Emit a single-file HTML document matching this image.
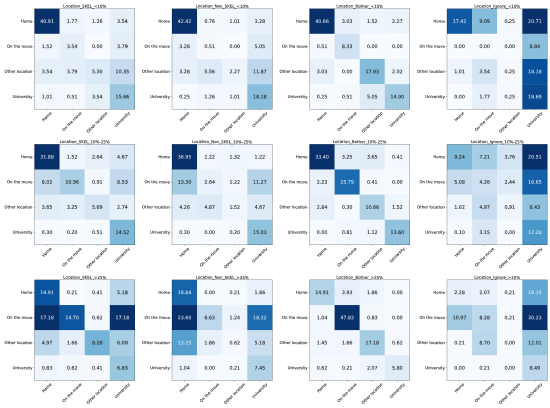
<!DOCTYPE html>
<html lang="en"><head><meta charset="utf-8"><title>Location confusion matrices</title>
<style>html,body{margin:0;padding:0;background:#fff;overflow:hidden;width:550px;height:408px}#wrap{position:relative;width:550px;height:408px;overflow:hidden}#ss{position:absolute;left:0;top:0;width:1100px;height:816px;transform:scale(0.5);transform-origin:0 0;will-change:transform}svg{display:block}text{font-family:"DejaVu Sans","Liberation Sans",sans-serif;stroke-width:0.5px;paint-order:stroke;text-rendering:geometricPrecision}.k{fill:#1a1a1a;stroke:#1a1a1a;stroke-width:0.4px}.d{fill:#262626;stroke:#262626}.l{fill:#eef2f9;stroke:#eef2f9;stroke-width:0.1px}.c{font-size:19px;text-anchor:middle}.y{font-size:15.68px;text-anchor:end}.x{font-size:15.68px;text-anchor:middle}.t{font-size:16px;text-anchor:middle}</style></head><body>
<div id="wrap"><div id="ss"><svg width="1100" height="816" viewBox="0 0 2200 1632">
<rect width="2200" height="1632" fill="#fff"/>
<g>
<rect x="138" y="34.8" width="100.6" height="100.8" fill="#08306b"/>
<rect x="238.4" y="34.8" width="100.6" height="100.8" fill="#eef5fc"/>
<rect x="338.8" y="34.8" width="100.6" height="100.8" fill="#f2f7fd"/>
<rect x="439.2" y="34.8" width="100.6" height="100.8" fill="#e6f0f9"/>
<rect x="138" y="135.4" width="100.6" height="100.8" fill="#f0f6fd"/>
<rect x="238.4" y="135.4" width="100.6" height="100.8" fill="#e6f0f9"/>
<rect x="338.8" y="135.4" width="100.6" height="100.8" fill="#f7fbff"/>
<rect x="439.2" y="135.4" width="100.6" height="100.8" fill="#e5eff9"/>
<rect x="138" y="236" width="100.6" height="100.8" fill="#e6f0f9"/>
<rect x="238.4" y="236" width="100.6" height="100.8" fill="#e5eff9"/>
<rect x="338.8" y="236" width="100.6" height="100.8" fill="#ddeaf7"/>
<rect x="439.2" y="236" width="100.6" height="100.8" fill="#c6dbef"/>
<rect x="138" y="336.6" width="100.6" height="100.8" fill="#f2f8fd"/>
<rect x="238.4" y="336.6" width="100.6" height="100.8" fill="#f5f9fe"/>
<rect x="338.8" y="336.6" width="100.6" height="100.8" fill="#e6f0f9"/>
<rect x="439.2" y="336.6" width="100.6" height="100.8" fill="#9cc9e1"/>
<rect x="138" y="34.8" width="401.6" height="402.4" fill="none" stroke="#000" stroke-width="0.88"/>
<path d="M188.2 437.2v4.4M138 85.1h-4.4M288.6 437.2v4.4M138 185.7h-4.4M389 437.2v4.4M138 286.3h-4.4M489.4 437.2v4.4M138 386.9h-4.4" stroke="#000" stroke-width="0.88" fill="none"/>
</g><g>
<text class="c l" transform="translate(188.2 91.54) rotate(0.5)">40.91</text>
<text class="c d" transform="translate(288.6 91.54) rotate(0.5)">1.77</text>
<text class="c d" transform="translate(389 91.54) rotate(0.5)">1.26</text>
<text class="c d" transform="translate(489.4 91.54) rotate(0.5)">3.54</text>
<text class="c d" transform="translate(188.2 192.14) rotate(0.5)">1.52</text>
<text class="c d" transform="translate(288.6 192.14) rotate(0.5)">3.54</text>
<text class="c d" transform="translate(389 192.14) rotate(0.5)">0.00</text>
<text class="c d" transform="translate(489.4 192.14) rotate(0.5)">3.79</text>
<text class="c d" transform="translate(188.2 292.74) rotate(0.5)">3.54</text>
<text class="c d" transform="translate(288.6 292.74) rotate(0.5)">3.79</text>
<text class="c d" transform="translate(389 292.74) rotate(0.5)">5.30</text>
<text class="c d" transform="translate(489.4 292.74) rotate(0.5)">10.35</text>
<text class="c d" transform="translate(188.2 393.34) rotate(0.5)">1.01</text>
<text class="c d" transform="translate(288.6 393.34) rotate(0.5)">0.51</text>
<text class="c d" transform="translate(389 393.34) rotate(0.5)">3.54</text>
<text class="c d" transform="translate(489.4 393.34) rotate(0.5)">15.66</text>
<text class="k y" transform="translate(129.6 90.63) rotate(0.5)">Home</text>
<text class="k y" transform="translate(129.6 191.23) rotate(0.5)">On the move</text>
<text class="k y" transform="translate(129.6 291.83) rotate(0.5)">Other location</text>
<text class="k y" transform="translate(129.6 392.43) rotate(0.5)">University</text>
<text class="k x" transform="translate(188.2 466.94) rotate(-45)" y="4.33">Home</text>
<text class="k x" transform="translate(288.6 486.55) rotate(-45)" y="4.33">On the move</text>
<text class="k x" transform="translate(389 490.07) rotate(-45)" y="4.33">Other location</text>
<text class="k x" transform="translate(489.4 478.53) rotate(-45)" y="4.33">University</text>
<text class="k t" transform="translate(338.8 30.4) rotate(0.5)">Location_SKEL_&lt;10%</text>
</g>
<g>
<rect x="688" y="34.8" width="100.6" height="100.8" fill="#08306b"/>
<rect x="788.4" y="34.8" width="100.6" height="100.8" fill="#f4f9fe"/>
<rect x="888.8" y="34.8" width="100.6" height="100.8" fill="#f2f8fd"/>
<rect x="989.2" y="34.8" width="100.6" height="100.8" fill="#e8f1fa"/>
<rect x="688" y="135.4" width="100.6" height="100.8" fill="#e8f1fa"/>
<rect x="788.4" y="135.4" width="100.6" height="100.8" fill="#f5f9fe"/>
<rect x="888.8" y="135.4" width="100.6" height="100.8" fill="#f7fbff"/>
<rect x="989.2" y="135.4" width="100.6" height="100.8" fill="#dfecf7"/>
<rect x="688" y="236" width="100.6" height="100.8" fill="#e8f1fa"/>
<rect x="788.4" y="236" width="100.6" height="100.8" fill="#ddeaf7"/>
<rect x="888.8" y="236" width="100.6" height="100.8" fill="#edf4fc"/>
<rect x="989.2" y="236" width="100.6" height="100.8" fill="#bdd7ec"/>
<rect x="688" y="336.6" width="100.6" height="100.8" fill="#f6faff"/>
<rect x="788.4" y="336.6" width="100.6" height="100.8" fill="#f2f7fd"/>
<rect x="888.8" y="336.6" width="100.6" height="100.8" fill="#f2f8fd"/>
<rect x="989.2" y="336.6" width="100.6" height="100.8" fill="#89bedc"/>
<rect x="688" y="34.8" width="401.6" height="402.4" fill="none" stroke="#000" stroke-width="0.88"/>
<path d="M738.2 437.2v4.4M688 85.1h-4.4M838.6 437.2v4.4M688 185.7h-4.4M939 437.2v4.4M688 286.3h-4.4M1039.4 437.2v4.4M688 386.9h-4.4" stroke="#000" stroke-width="0.88" fill="none"/>
</g><g>
<text class="c l" transform="translate(738.2 91.54) rotate(0.5)">42.42</text>
<text class="c d" transform="translate(838.6 91.54) rotate(0.5)">0.76</text>
<text class="c d" transform="translate(939 91.54) rotate(0.5)">1.01</text>
<text class="c d" transform="translate(1039.4 91.54) rotate(0.5)">3.28</text>
<text class="c d" transform="translate(738.2 192.14) rotate(0.5)">3.28</text>
<text class="c d" transform="translate(838.6 192.14) rotate(0.5)">0.51</text>
<text class="c d" transform="translate(939 192.14) rotate(0.5)">0.00</text>
<text class="c d" transform="translate(1039.4 192.14) rotate(0.5)">5.05</text>
<text class="c d" transform="translate(738.2 292.74) rotate(0.5)">3.28</text>
<text class="c d" transform="translate(838.6 292.74) rotate(0.5)">5.56</text>
<text class="c d" transform="translate(939 292.74) rotate(0.5)">2.27</text>
<text class="c d" transform="translate(1039.4 292.74) rotate(0.5)">11.87</text>
<text class="c d" transform="translate(738.2 393.34) rotate(0.5)">0.25</text>
<text class="c d" transform="translate(838.6 393.34) rotate(0.5)">1.26</text>
<text class="c d" transform="translate(939 393.34) rotate(0.5)">1.01</text>
<text class="c d" transform="translate(1039.4 393.34) rotate(0.5)">18.18</text>
<text class="k y" transform="translate(679.6 90.63) rotate(0.5)">Home</text>
<text class="k y" transform="translate(679.6 191.23) rotate(0.5)">On the move</text>
<text class="k y" transform="translate(679.6 291.83) rotate(0.5)">Other location</text>
<text class="k y" transform="translate(679.6 392.43) rotate(0.5)">University</text>
<text class="k x" transform="translate(738.2 466.94) rotate(-45)" y="4.33">Home</text>
<text class="k x" transform="translate(838.6 486.55) rotate(-45)" y="4.33">On the move</text>
<text class="k x" transform="translate(939 490.07) rotate(-45)" y="4.33">Other location</text>
<text class="k x" transform="translate(1039.4 478.53) rotate(-45)" y="4.33">University</text>
<text class="k t" transform="translate(888.8 30.4) rotate(0.5)">Location_Non_SKEL_&lt;10%</text>
</g>
<g>
<rect x="1238" y="34.8" width="100.6" height="100.8" fill="#08306b"/>
<rect x="1338.4" y="34.8" width="100.6" height="100.8" fill="#e8f1fa"/>
<rect x="1438.8" y="34.8" width="100.6" height="100.8" fill="#f0f6fd"/>
<rect x="1539.2" y="34.8" width="100.6" height="100.8" fill="#ecf4fb"/>
<rect x="1238" y="135.4" width="100.6" height="100.8" fill="#f5f9fe"/>
<rect x="1338.4" y="135.4" width="100.6" height="100.8" fill="#cfe1f2"/>
<rect x="1438.8" y="135.4" width="100.6" height="100.8" fill="#f7fbff"/>
<rect x="1539.2" y="135.4" width="100.6" height="100.8" fill="#f7fbff"/>
<rect x="1238" y="236" width="100.6" height="100.8" fill="#e8f1fa"/>
<rect x="1338.4" y="236" width="100.6" height="100.8" fill="#f7fbff"/>
<rect x="1438.8" y="236" width="100.6" height="100.8" fill="#84bcdb"/>
<rect x="1539.2" y="236" width="100.6" height="100.8" fill="#eef5fc"/>
<rect x="1238" y="336.6" width="100.6" height="100.8" fill="#f6faff"/>
<rect x="1338.4" y="336.6" width="100.6" height="100.8" fill="#f5f9fe"/>
<rect x="1438.8" y="336.6" width="100.6" height="100.8" fill="#dfebf7"/>
<rect x="1539.2" y="336.6" width="100.6" height="100.8" fill="#a1cbe2"/>
<rect x="1238" y="34.8" width="401.6" height="402.4" fill="none" stroke="#000" stroke-width="0.88"/>
<path d="M1288.2 437.2v4.4M1238 85.1h-4.4M1388.6 437.2v4.4M1238 185.7h-4.4M1489 437.2v4.4M1238 286.3h-4.4M1589.4 437.2v4.4M1238 386.9h-4.4" stroke="#000" stroke-width="0.88" fill="none"/>
</g><g>
<text class="c l" transform="translate(1288.2 91.54) rotate(0.5)">40.66</text>
<text class="c d" transform="translate(1388.6 91.54) rotate(0.5)">3.03</text>
<text class="c d" transform="translate(1489 91.54) rotate(0.5)">1.52</text>
<text class="c d" transform="translate(1589.4 91.54) rotate(0.5)">2.27</text>
<text class="c d" transform="translate(1288.2 192.14) rotate(0.5)">0.51</text>
<text class="c d" transform="translate(1388.6 192.14) rotate(0.5)">8.33</text>
<text class="c d" transform="translate(1489 192.14) rotate(0.5)">0.00</text>
<text class="c d" transform="translate(1589.4 192.14) rotate(0.5)">0.00</text>
<text class="c d" transform="translate(1288.2 292.74) rotate(0.5)">3.03</text>
<text class="c d" transform="translate(1388.6 292.74) rotate(0.5)">0.00</text>
<text class="c d" transform="translate(1489 292.74) rotate(0.5)">17.93</text>
<text class="c d" transform="translate(1589.4 292.74) rotate(0.5)">2.02</text>
<text class="c d" transform="translate(1288.2 393.34) rotate(0.5)">0.25</text>
<text class="c d" transform="translate(1388.6 393.34) rotate(0.5)">0.51</text>
<text class="c d" transform="translate(1489 393.34) rotate(0.5)">5.05</text>
<text class="c d" transform="translate(1589.4 393.34) rotate(0.5)">14.90</text>
<text class="k y" transform="translate(1229.6 90.63) rotate(0.5)">Home</text>
<text class="k y" transform="translate(1229.6 191.23) rotate(0.5)">On the move</text>
<text class="k y" transform="translate(1229.6 291.83) rotate(0.5)">Other location</text>
<text class="k y" transform="translate(1229.6 392.43) rotate(0.5)">University</text>
<text class="k x" transform="translate(1288.2 466.94) rotate(-45)" y="4.33">Home</text>
<text class="k x" transform="translate(1388.6 486.55) rotate(-45)" y="4.33">On the move</text>
<text class="k x" transform="translate(1489 490.07) rotate(-45)" y="4.33">Other location</text>
<text class="k x" transform="translate(1589.4 478.53) rotate(-45)" y="4.33">University</text>
<text class="k t" transform="translate(1438.8 30.4) rotate(0.5)">Location_Bother_&lt;10%</text>
</g>
<g>
<rect x="1788" y="34.8" width="100.6" height="100.8" fill="#0e59a2"/>
<rect x="1888.4" y="34.8" width="100.6" height="100.8" fill="#84bcdb"/>
<rect x="1988.8" y="34.8" width="100.6" height="100.8" fill="#f5f9fe"/>
<rect x="2089.2" y="34.8" width="100.6" height="100.8" fill="#08306b"/>
<rect x="1788" y="135.4" width="100.6" height="100.8" fill="#f7fbff"/>
<rect x="1888.4" y="135.4" width="100.6" height="100.8" fill="#f7fbff"/>
<rect x="1988.8" y="135.4" width="100.6" height="100.8" fill="#f7fbff"/>
<rect x="2089.2" y="135.4" width="100.6" height="100.8" fill="#89bedc"/>
<rect x="1788" y="236" width="100.6" height="100.8" fill="#eef5fc"/>
<rect x="1888.4" y="236" width="100.6" height="100.8" fill="#d6e5f4"/>
<rect x="1988.8" y="236" width="100.6" height="100.8" fill="#f5f9fe"/>
<rect x="2089.2" y="236" width="100.6" height="100.8" fill="#08509b"/>
<rect x="1788" y="336.6" width="100.6" height="100.8" fill="#f7fbff"/>
<rect x="1888.4" y="336.6" width="100.6" height="100.8" fill="#e7f0fa"/>
<rect x="1988.8" y="336.6" width="100.6" height="100.8" fill="#f5f9fe"/>
<rect x="2089.2" y="336.6" width="100.6" height="100.8" fill="#084990"/>
<rect x="1788" y="34.8" width="401.6" height="402.4" fill="none" stroke="#000" stroke-width="0.88"/>
<path d="M1838.2 437.2v4.4M1788 85.1h-4.4M1938.6 437.2v4.4M1788 185.7h-4.4M2039 437.2v4.4M1788 286.3h-4.4M2139.4 437.2v4.4M1788 386.9h-4.4" stroke="#000" stroke-width="0.88" fill="none"/>
</g><g>
<text class="c l" transform="translate(1838.2 91.54) rotate(0.5)">17.42</text>
<text class="c d" transform="translate(1938.6 91.54) rotate(0.5)">9.09</text>
<text class="c d" transform="translate(2039 91.54) rotate(0.5)">0.25</text>
<text class="c l" transform="translate(2139.4 91.54) rotate(0.5)">20.71</text>
<text class="c d" transform="translate(1838.2 192.14) rotate(0.5)">0.00</text>
<text class="c d" transform="translate(1938.6 192.14) rotate(0.5)">0.00</text>
<text class="c d" transform="translate(2039 192.14) rotate(0.5)">0.00</text>
<text class="c d" transform="translate(2139.4 192.14) rotate(0.5)">8.84</text>
<text class="c d" transform="translate(1838.2 292.74) rotate(0.5)">1.01</text>
<text class="c d" transform="translate(1938.6 292.74) rotate(0.5)">3.54</text>
<text class="c d" transform="translate(2039 292.74) rotate(0.5)">0.25</text>
<text class="c l" transform="translate(2139.4 292.74) rotate(0.5)">18.18</text>
<text class="c d" transform="translate(1838.2 393.34) rotate(0.5)">0.00</text>
<text class="c d" transform="translate(1938.6 393.34) rotate(0.5)">1.77</text>
<text class="c d" transform="translate(2039 393.34) rotate(0.5)">0.25</text>
<text class="c l" transform="translate(2139.4 393.34) rotate(0.5)">18.69</text>
<text class="k y" transform="translate(1779.6 90.63) rotate(0.5)">Home</text>
<text class="k y" transform="translate(1779.6 191.23) rotate(0.5)">On the move</text>
<text class="k y" transform="translate(1779.6 291.83) rotate(0.5)">Other location</text>
<text class="k y" transform="translate(1779.6 392.43) rotate(0.5)">University</text>
<text class="k x" transform="translate(1838.2 466.94) rotate(-45)" y="4.33">Home</text>
<text class="k x" transform="translate(1938.6 486.55) rotate(-45)" y="4.33">On the move</text>
<text class="k x" transform="translate(2039 490.07) rotate(-45)" y="4.33">Other location</text>
<text class="k x" transform="translate(2139.4 478.53) rotate(-45)" y="4.33">University</text>
<text class="k t" transform="translate(1988.8 30.4) rotate(0.5)">Location_Ignore_&lt;10%</text>
</g>
<g>
<rect x="138" y="577.2" width="100.6" height="100.8" fill="#08306b"/>
<rect x="238.4" y="577.2" width="100.6" height="100.8" fill="#eff6fc"/>
<rect x="338.8" y="577.2" width="100.6" height="100.8" fill="#e8f1fa"/>
<rect x="439.2" y="577.2" width="100.6" height="100.8" fill="#dbe9f6"/>
<rect x="138" y="677.8" width="100.6" height="100.8" fill="#c7dbef"/>
<rect x="238.4" y="677.8" width="100.6" height="100.8" fill="#aacfe5"/>
<rect x="338.8" y="677.8" width="100.6" height="100.8" fill="#f3f8fe"/>
<rect x="439.2" y="677.8" width="100.6" height="100.8" fill="#c2d9ee"/>
<rect x="138" y="778.4" width="100.6" height="100.8" fill="#e2edf8"/>
<rect x="238.4" y="778.4" width="100.6" height="100.8" fill="#e4eff9"/>
<rect x="338.8" y="778.4" width="100.6" height="100.8" fill="#d5e5f4"/>
<rect x="439.2" y="778.4" width="100.6" height="100.8" fill="#e7f1fa"/>
<rect x="138" y="879" width="100.6" height="100.8" fill="#f7fbff"/>
<rect x="238.4" y="879" width="100.6" height="100.8" fill="#f7fbff"/>
<rect x="338.8" y="879" width="100.6" height="100.8" fill="#f5fafe"/>
<rect x="439.2" y="879" width="100.6" height="100.8" fill="#7fb9da"/>
<rect x="138" y="577.2" width="401.6" height="402.4" fill="none" stroke="#000" stroke-width="0.88"/>
<path d="M188.2 979.6v4.4M138 627.5h-4.4M288.6 979.6v4.4M138 728.1h-4.4M389 979.6v4.4M138 828.7h-4.4M489.4 979.6v4.4M138 929.3h-4.4" stroke="#000" stroke-width="0.88" fill="none"/>
</g><g>
<text class="c l" transform="translate(188.2 633.94) rotate(0.5)">31.88</text>
<text class="c d" transform="translate(288.6 633.94) rotate(0.5)">1.52</text>
<text class="c d" transform="translate(389 633.94) rotate(0.5)">2.64</text>
<text class="c d" transform="translate(489.4 633.94) rotate(0.5)">4.67</text>
<text class="c d" transform="translate(188.2 734.54) rotate(0.5)">8.02</text>
<text class="c d" transform="translate(288.6 734.54) rotate(0.5)">10.96</text>
<text class="c d" transform="translate(389 734.54) rotate(0.5)">0.91</text>
<text class="c d" transform="translate(489.4 734.54) rotate(0.5)">8.53</text>
<text class="c d" transform="translate(188.2 835.14) rotate(0.5)">3.65</text>
<text class="c d" transform="translate(288.6 835.14) rotate(0.5)">3.25</text>
<text class="c d" transform="translate(389 835.14) rotate(0.5)">5.69</text>
<text class="c d" transform="translate(489.4 835.14) rotate(0.5)">2.74</text>
<text class="c d" transform="translate(188.2 935.74) rotate(0.5)">0.30</text>
<text class="c d" transform="translate(288.6 935.74) rotate(0.5)">0.20</text>
<text class="c d" transform="translate(389 935.74) rotate(0.5)">0.51</text>
<text class="c d" transform="translate(489.4 935.74) rotate(0.5)">14.52</text>
<text class="k y" transform="translate(129.6 633.03) rotate(0.5)">Home</text>
<text class="k y" transform="translate(129.6 733.63) rotate(0.5)">On the move</text>
<text class="k y" transform="translate(129.6 834.23) rotate(0.5)">Other location</text>
<text class="k y" transform="translate(129.6 934.83) rotate(0.5)">University</text>
<text class="k x" transform="translate(188.2 1009.34) rotate(-45)" y="4.33">Home</text>
<text class="k x" transform="translate(288.6 1028.95) rotate(-45)" y="4.33">On the move</text>
<text class="k x" transform="translate(389 1032.47) rotate(-45)" y="4.33">Other location</text>
<text class="k x" transform="translate(489.4 1020.93) rotate(-45)" y="4.33">University</text>
<text class="k t" transform="translate(338.8 572.8) rotate(0.5)">Location_SKEL_10%-25%</text>
</g>
<g>
<rect x="688" y="577.2" width="100.6" height="100.8" fill="#08306b"/>
<rect x="788.4" y="577.2" width="100.6" height="100.8" fill="#f1f7fd"/>
<rect x="888.8" y="577.2" width="100.6" height="100.8" fill="#f0f6fd"/>
<rect x="989.2" y="577.2" width="100.6" height="100.8" fill="#f1f7fd"/>
<rect x="688" y="677.8" width="100.6" height="100.8" fill="#a3cce3"/>
<rect x="788.4" y="677.8" width="100.6" height="100.8" fill="#e9f2fa"/>
<rect x="888.8" y="677.8" width="100.6" height="100.8" fill="#f1f7fd"/>
<rect x="989.2" y="677.8" width="100.6" height="100.8" fill="#b4d3e9"/>
<rect x="688" y="778.4" width="100.6" height="100.8" fill="#e0ecf8"/>
<rect x="788.4" y="778.4" width="100.6" height="100.8" fill="#ddeaf7"/>
<rect x="888.8" y="778.4" width="100.6" height="100.8" fill="#eff6fc"/>
<rect x="989.2" y="778.4" width="100.6" height="100.8" fill="#deebf7"/>
<rect x="688" y="879" width="100.6" height="100.8" fill="#f5fafe"/>
<rect x="788.4" y="879" width="100.6" height="100.8" fill="#f7fbff"/>
<rect x="888.8" y="879" width="100.6" height="100.8" fill="#f6faff"/>
<rect x="989.2" y="879" width="100.6" height="100.8" fill="#91c3de"/>
<rect x="688" y="577.2" width="401.6" height="402.4" fill="none" stroke="#000" stroke-width="0.88"/>
<path d="M738.2 979.6v4.4M688 627.5h-4.4M838.6 979.6v4.4M688 728.1h-4.4M939 979.6v4.4M688 828.7h-4.4M1039.4 979.6v4.4M688 929.3h-4.4" stroke="#000" stroke-width="0.88" fill="none"/>
</g><g>
<text class="c l" transform="translate(738.2 633.94) rotate(0.5)">36.95</text>
<text class="c d" transform="translate(838.6 633.94) rotate(0.5)">1.22</text>
<text class="c d" transform="translate(939 633.94) rotate(0.5)">1.32</text>
<text class="c d" transform="translate(1039.4 633.94) rotate(0.5)">1.22</text>
<text class="c d" transform="translate(738.2 734.54) rotate(0.5)">13.30</text>
<text class="c d" transform="translate(838.6 734.54) rotate(0.5)">2.64</text>
<text class="c d" transform="translate(939 734.54) rotate(0.5)">1.22</text>
<text class="c d" transform="translate(1039.4 734.54) rotate(0.5)">11.27</text>
<text class="c d" transform="translate(738.2 835.14) rotate(0.5)">4.26</text>
<text class="c d" transform="translate(838.6 835.14) rotate(0.5)">4.87</text>
<text class="c d" transform="translate(939 835.14) rotate(0.5)">1.52</text>
<text class="c d" transform="translate(1039.4 835.14) rotate(0.5)">4.67</text>
<text class="c d" transform="translate(738.2 935.74) rotate(0.5)">0.30</text>
<text class="c d" transform="translate(838.6 935.74) rotate(0.5)">0.00</text>
<text class="c d" transform="translate(939 935.74) rotate(0.5)">0.20</text>
<text class="c d" transform="translate(1039.4 935.74) rotate(0.5)">15.03</text>
<text class="k y" transform="translate(679.6 633.03) rotate(0.5)">Home</text>
<text class="k y" transform="translate(679.6 733.63) rotate(0.5)">On the move</text>
<text class="k y" transform="translate(679.6 834.23) rotate(0.5)">Other location</text>
<text class="k y" transform="translate(679.6 934.83) rotate(0.5)">University</text>
<text class="k x" transform="translate(738.2 1009.34) rotate(-45)" y="4.33">Home</text>
<text class="k x" transform="translate(838.6 1028.95) rotate(-45)" y="4.33">On the move</text>
<text class="k x" transform="translate(939 1032.47) rotate(-45)" y="4.33">Other location</text>
<text class="k x" transform="translate(1039.4 1020.93) rotate(-45)" y="4.33">University</text>
<text class="k t" transform="translate(888.8 572.8) rotate(0.5)">Location_Non_SKEL_10%-25%</text>
</g>
<g>
<rect x="1238" y="577.2" width="100.6" height="100.8" fill="#08306b"/>
<rect x="1338.4" y="577.2" width="100.6" height="100.8" fill="#e4eff9"/>
<rect x="1438.8" y="577.2" width="100.6" height="100.8" fill="#e2edf8"/>
<rect x="1539.2" y="577.2" width="100.6" height="100.8" fill="#f5f9fe"/>
<rect x="1238" y="677.8" width="100.6" height="100.8" fill="#eaf2fb"/>
<rect x="1338.4" y="677.8" width="100.6" height="100.8" fill="#1c6bb0"/>
<rect x="1438.8" y="677.8" width="100.6" height="100.8" fill="#f5f9fe"/>
<rect x="1539.2" y="677.8" width="100.6" height="100.8" fill="#f7fbff"/>
<rect x="1238" y="778.4" width="100.6" height="100.8" fill="#e7f0fa"/>
<rect x="1338.4" y="778.4" width="100.6" height="100.8" fill="#f5fafe"/>
<rect x="1438.8" y="778.4" width="100.6" height="100.8" fill="#b0d2e7"/>
<rect x="1539.2" y="778.4" width="100.6" height="100.8" fill="#eef5fc"/>
<rect x="1238" y="879" width="100.6" height="100.8" fill="#f7fbff"/>
<rect x="1338.4" y="879" width="100.6" height="100.8" fill="#f2f8fd"/>
<rect x="1438.8" y="879" width="100.6" height="100.8" fill="#f1f7fd"/>
<rect x="1539.2" y="879" width="100.6" height="100.8" fill="#91c3de"/>
<rect x="1238" y="577.2" width="401.6" height="402.4" fill="none" stroke="#000" stroke-width="0.88"/>
<path d="M1288.2 979.6v4.4M1238 627.5h-4.4M1388.6 979.6v4.4M1238 728.1h-4.4M1489 979.6v4.4M1238 828.7h-4.4M1589.4 979.6v4.4M1238 929.3h-4.4" stroke="#000" stroke-width="0.88" fill="none"/>
</g><g>
<text class="c l" transform="translate(1288.2 633.94) rotate(0.5)">33.40</text>
<text class="c d" transform="translate(1388.6 633.94) rotate(0.5)">3.25</text>
<text class="c d" transform="translate(1489 633.94) rotate(0.5)">3.65</text>
<text class="c d" transform="translate(1589.4 633.94) rotate(0.5)">0.41</text>
<text class="c d" transform="translate(1288.2 734.54) rotate(0.5)">2.23</text>
<text class="c l" transform="translate(1388.6 734.54) rotate(0.5)">25.79</text>
<text class="c d" transform="translate(1489 734.54) rotate(0.5)">0.41</text>
<text class="c d" transform="translate(1589.4 734.54) rotate(0.5)">0.00</text>
<text class="c d" transform="translate(1288.2 835.14) rotate(0.5)">2.84</text>
<text class="c d" transform="translate(1388.6 835.14) rotate(0.5)">0.30</text>
<text class="c d" transform="translate(1489 835.14) rotate(0.5)">10.66</text>
<text class="c d" transform="translate(1589.4 835.14) rotate(0.5)">1.52</text>
<text class="c d" transform="translate(1288.2 935.74) rotate(0.5)">0.00</text>
<text class="c d" transform="translate(1388.6 935.74) rotate(0.5)">0.81</text>
<text class="c d" transform="translate(1489 935.74) rotate(0.5)">1.12</text>
<text class="c d" transform="translate(1589.4 935.74) rotate(0.5)">13.60</text>
<text class="k y" transform="translate(1229.6 633.03) rotate(0.5)">Home</text>
<text class="k y" transform="translate(1229.6 733.63) rotate(0.5)">On the move</text>
<text class="k y" transform="translate(1229.6 834.23) rotate(0.5)">Other location</text>
<text class="k y" transform="translate(1229.6 934.83) rotate(0.5)">University</text>
<text class="k x" transform="translate(1288.2 1009.34) rotate(-45)" y="4.33">Home</text>
<text class="k x" transform="translate(1388.6 1028.95) rotate(-45)" y="4.33">On the move</text>
<text class="k x" transform="translate(1489 1032.47) rotate(-45)" y="4.33">Other location</text>
<text class="k x" transform="translate(1589.4 1020.93) rotate(-45)" y="4.33">University</text>
<text class="k t" transform="translate(1438.8 572.8) rotate(0.5)">Location_Bother_10%-25%</text>
</g>
<g>
<rect x="1788" y="577.2" width="100.6" height="100.8" fill="#7fb9da"/>
<rect x="1888.4" y="577.2" width="100.6" height="100.8" fill="#a6cee4"/>
<rect x="1988.8" y="577.2" width="100.6" height="100.8" fill="#d3e4f3"/>
<rect x="2089.2" y="577.2" width="100.6" height="100.8" fill="#08306b"/>
<rect x="1788" y="677.8" width="100.6" height="100.8" fill="#c7dbef"/>
<rect x="1888.4" y="677.8" width="100.6" height="100.8" fill="#cee0f2"/>
<rect x="1988.8" y="677.8" width="100.6" height="100.8" fill="#dfecf7"/>
<rect x="2089.2" y="677.8" width="100.6" height="100.8" fill="#1561a9"/>
<rect x="1788" y="778.4" width="100.6" height="100.8" fill="#eef5fc"/>
<rect x="1888.4" y="778.4" width="100.6" height="100.8" fill="#c7dcef"/>
<rect x="1988.8" y="778.4" width="100.6" height="100.8" fill="#eef5fc"/>
<rect x="2089.2" y="778.4" width="100.6" height="100.8" fill="#8fc2de"/>
<rect x="1788" y="879" width="100.6" height="100.8" fill="#f6faff"/>
<rect x="1888.4" y="879" width="100.6" height="100.8" fill="#d9e7f5"/>
<rect x="1988.8" y="879" width="100.6" height="100.8" fill="#f7fbff"/>
<rect x="2089.2" y="879" width="100.6" height="100.8" fill="#4a98c9"/>
<rect x="1788" y="577.2" width="401.6" height="402.4" fill="none" stroke="#000" stroke-width="0.88"/>
<path d="M1838.2 979.6v4.4M1788 627.5h-4.4M1938.6 979.6v4.4M1788 728.1h-4.4M2039 979.6v4.4M1788 828.7h-4.4M2139.4 979.6v4.4M1788 929.3h-4.4" stroke="#000" stroke-width="0.88" fill="none"/>
</g><g>
<text class="c d" transform="translate(1838.2 633.94) rotate(0.5)">9.24</text>
<text class="c d" transform="translate(1938.6 633.94) rotate(0.5)">7.21</text>
<text class="c d" transform="translate(2039 633.94) rotate(0.5)">3.76</text>
<text class="c l" transform="translate(2139.4 633.94) rotate(0.5)">20.51</text>
<text class="c d" transform="translate(1838.2 734.54) rotate(0.5)">5.08</text>
<text class="c d" transform="translate(1938.6 734.54) rotate(0.5)">4.26</text>
<text class="c d" transform="translate(2039 734.54) rotate(0.5)">2.44</text>
<text class="c l" transform="translate(2139.4 734.54) rotate(0.5)">16.65</text>
<text class="c d" transform="translate(1838.2 835.14) rotate(0.5)">1.02</text>
<text class="c d" transform="translate(1938.6 835.14) rotate(0.5)">4.97</text>
<text class="c d" transform="translate(2039 835.14) rotate(0.5)">0.91</text>
<text class="c d" transform="translate(2139.4 835.14) rotate(0.5)">8.43</text>
<text class="c d" transform="translate(1838.2 935.74) rotate(0.5)">0.10</text>
<text class="c d" transform="translate(1938.6 935.74) rotate(0.5)">3.15</text>
<text class="c d" transform="translate(2039 935.74) rotate(0.5)">0.00</text>
<text class="c l" transform="translate(2139.4 935.74) rotate(0.5)">12.28</text>
<text class="k y" transform="translate(1779.6 633.03) rotate(0.5)">Home</text>
<text class="k y" transform="translate(1779.6 733.63) rotate(0.5)">On the move</text>
<text class="k y" transform="translate(1779.6 834.23) rotate(0.5)">Other location</text>
<text class="k y" transform="translate(1779.6 934.83) rotate(0.5)">University</text>
<text class="k x" transform="translate(1838.2 1009.34) rotate(-45)" y="4.33">Home</text>
<text class="k x" transform="translate(1938.6 1028.95) rotate(-45)" y="4.33">On the move</text>
<text class="k x" transform="translate(2039 1032.47) rotate(-45)" y="4.33">Other location</text>
<text class="k x" transform="translate(2139.4 1020.93) rotate(-45)" y="4.33">University</text>
<text class="k t" transform="translate(1988.8 572.8) rotate(0.5)">Location_Ignore_10%-25%</text>
</g>
<g>
<rect x="138" y="1119.6" width="100.6" height="100.8" fill="#0a539e"/>
<rect x="238.4" y="1119.6" width="100.6" height="100.8" fill="#f7fbff"/>
<rect x="338.8" y="1119.6" width="100.6" height="100.8" fill="#f5f9fe"/>
<rect x="439.2" y="1119.6" width="100.6" height="100.8" fill="#b9d6ea"/>
<rect x="138" y="1220.2" width="100.6" height="100.8" fill="#08306b"/>
<rect x="238.4" y="1220.2" width="100.6" height="100.8" fill="#0c56a0"/>
<rect x="338.8" y="1220.2" width="100.6" height="100.8" fill="#f2f8fd"/>
<rect x="439.2" y="1220.2" width="100.6" height="100.8" fill="#08306b"/>
<rect x="138" y="1320.8" width="100.6" height="100.8" fill="#bdd7ec"/>
<rect x="238.4" y="1320.8" width="100.6" height="100.8" fill="#e7f0fa"/>
<rect x="338.8" y="1320.8" width="100.6" height="100.8" fill="#75b4d8"/>
<rect x="439.2" y="1320.8" width="100.6" height="100.8" fill="#a9cfe5"/>
<rect x="138" y="1421.4" width="100.6" height="100.8" fill="#f0f6fd"/>
<rect x="238.4" y="1421.4" width="100.6" height="100.8" fill="#f2f8fd"/>
<rect x="338.8" y="1421.4" width="100.6" height="100.8" fill="#f5f9fe"/>
<rect x="439.2" y="1421.4" width="100.6" height="100.8" fill="#99c7e0"/>
<rect x="138" y="1119.6" width="401.6" height="402.4" fill="none" stroke="#000" stroke-width="0.88"/>
<path d="M188.2 1522v4.4M138 1169.9h-4.4M288.6 1522v4.4M138 1270.5h-4.4M389 1522v4.4M138 1371.1h-4.4M489.4 1522v4.4M138 1471.7h-4.4" stroke="#000" stroke-width="0.88" fill="none"/>
</g><g>
<text class="c l" transform="translate(188.2 1176.34) rotate(0.5)">14.91</text>
<text class="c d" transform="translate(288.6 1176.34) rotate(0.5)">0.21</text>
<text class="c d" transform="translate(389 1176.34) rotate(0.5)">0.41</text>
<text class="c d" transform="translate(489.4 1176.34) rotate(0.5)">5.18</text>
<text class="c l" transform="translate(188.2 1276.94) rotate(0.5)">17.18</text>
<text class="c l" transform="translate(288.6 1276.94) rotate(0.5)">14.70</text>
<text class="c d" transform="translate(389 1276.94) rotate(0.5)">0.62</text>
<text class="c l" transform="translate(489.4 1276.94) rotate(0.5)">17.18</text>
<text class="c d" transform="translate(188.2 1377.54) rotate(0.5)">4.97</text>
<text class="c d" transform="translate(288.6 1377.54) rotate(0.5)">1.66</text>
<text class="c d" transform="translate(389 1377.54) rotate(0.5)">8.28</text>
<text class="c d" transform="translate(489.4 1377.54) rotate(0.5)">6.00</text>
<text class="c d" transform="translate(188.2 1478.14) rotate(0.5)">0.83</text>
<text class="c d" transform="translate(288.6 1478.14) rotate(0.5)">0.62</text>
<text class="c d" transform="translate(389 1478.14) rotate(0.5)">0.41</text>
<text class="c d" transform="translate(489.4 1478.14) rotate(0.5)">6.83</text>
<text class="k y" transform="translate(129.6 1175.43) rotate(0.5)">Home</text>
<text class="k y" transform="translate(129.6 1276.03) rotate(0.5)">On the move</text>
<text class="k y" transform="translate(129.6 1376.63) rotate(0.5)">Other location</text>
<text class="k y" transform="translate(129.6 1477.23) rotate(0.5)">University</text>
<text class="k x" transform="translate(188.2 1551.74) rotate(-45)" y="4.33">Home</text>
<text class="k x" transform="translate(288.6 1571.35) rotate(-45)" y="4.33">On the move</text>
<text class="k x" transform="translate(389 1574.87) rotate(-45)" y="4.33">Other location</text>
<text class="k x" transform="translate(489.4 1563.33) rotate(-45)" y="4.33">University</text>
<text class="k t" transform="translate(338.8 1115.2) rotate(0.5)">Location_SKEL_&gt;25%</text>
</g>
<g>
<rect x="688" y="1119.6" width="100.6" height="100.8" fill="#1764ab"/>
<rect x="788.4" y="1119.6" width="100.6" height="100.8" fill="#f7fbff"/>
<rect x="888.8" y="1119.6" width="100.6" height="100.8" fill="#f5fafe"/>
<rect x="989.2" y="1119.6" width="100.6" height="100.8" fill="#e9f2fa"/>
<rect x="688" y="1220.2" width="100.6" height="100.8" fill="#08306b"/>
<rect x="788.4" y="1220.2" width="100.6" height="100.8" fill="#bdd7ec"/>
<rect x="888.8" y="1220.2" width="100.6" height="100.8" fill="#edf4fc"/>
<rect x="989.2" y="1220.2" width="100.6" height="100.8" fill="#1c6bb0"/>
<rect x="688" y="1320.8" width="100.6" height="100.8" fill="#57a0ce"/>
<rect x="788.4" y="1320.8" width="100.6" height="100.8" fill="#e7f1fa"/>
<rect x="888.8" y="1320.8" width="100.6" height="100.8" fill="#f2f8fd"/>
<rect x="989.2" y="1320.8" width="100.6" height="100.8" fill="#ccdff1"/>
<rect x="688" y="1421.4" width="100.6" height="100.8" fill="#eef5fc"/>
<rect x="788.4" y="1421.4" width="100.6" height="100.8" fill="#f7fbff"/>
<rect x="888.8" y="1421.4" width="100.6" height="100.8" fill="#f5fafe"/>
<rect x="989.2" y="1421.4" width="100.6" height="100.8" fill="#b2d2e8"/>
<rect x="688" y="1119.6" width="401.6" height="402.4" fill="none" stroke="#000" stroke-width="0.88"/>
<path d="M738.2 1522v4.4M688 1169.9h-4.4M838.6 1522v4.4M688 1270.5h-4.4M939 1522v4.4M688 1371.1h-4.4M1039.4 1522v4.4M688 1471.7h-4.4" stroke="#000" stroke-width="0.88" fill="none"/>
</g><g>
<text class="c l" transform="translate(738.2 1176.34) rotate(0.5)">18.84</text>
<text class="c d" transform="translate(838.6 1176.34) rotate(0.5)">0.00</text>
<text class="c d" transform="translate(939 1176.34) rotate(0.5)">0.21</text>
<text class="c d" transform="translate(1039.4 1176.34) rotate(0.5)">1.66</text>
<text class="c l" transform="translate(738.2 1276.94) rotate(0.5)">23.60</text>
<text class="c d" transform="translate(838.6 1276.94) rotate(0.5)">6.63</text>
<text class="c d" transform="translate(939 1276.94) rotate(0.5)">1.24</text>
<text class="c l" transform="translate(1039.4 1276.94) rotate(0.5)">18.22</text>
<text class="c l" transform="translate(738.2 1377.54) rotate(0.5)">13.25</text>
<text class="c d" transform="translate(838.6 1377.54) rotate(0.5)">1.86</text>
<text class="c d" transform="translate(939 1377.54) rotate(0.5)">0.62</text>
<text class="c d" transform="translate(1039.4 1377.54) rotate(0.5)">5.18</text>
<text class="c d" transform="translate(738.2 1478.14) rotate(0.5)">1.04</text>
<text class="c d" transform="translate(838.6 1478.14) rotate(0.5)">0.00</text>
<text class="c d" transform="translate(939 1478.14) rotate(0.5)">0.21</text>
<text class="c d" transform="translate(1039.4 1478.14) rotate(0.5)">7.45</text>
<text class="k y" transform="translate(679.6 1175.43) rotate(0.5)">Home</text>
<text class="k y" transform="translate(679.6 1276.03) rotate(0.5)">On the move</text>
<text class="k y" transform="translate(679.6 1376.63) rotate(0.5)">Other location</text>
<text class="k y" transform="translate(679.6 1477.23) rotate(0.5)">University</text>
<text class="k x" transform="translate(738.2 1551.74) rotate(-45)" y="4.33">Home</text>
<text class="k x" transform="translate(838.6 1571.35) rotate(-45)" y="4.33">On the move</text>
<text class="k x" transform="translate(939 1574.87) rotate(-45)" y="4.33">Other location</text>
<text class="k x" transform="translate(1039.4 1563.33) rotate(-45)" y="4.33">University</text>
<text class="k t" transform="translate(888.8 1115.2) rotate(0.5)">Location_Non_SKEL_&gt;25%</text>
</g>
<g>
<rect x="1238" y="1119.6" width="100.6" height="100.8" fill="#b3d3e8"/>
<rect x="1338.4" y="1119.6" width="100.6" height="100.8" fill="#e7f0fa"/>
<rect x="1438.8" y="1119.6" width="100.6" height="100.8" fill="#f0f6fd"/>
<rect x="1539.2" y="1119.6" width="100.6" height="100.8" fill="#f7fbff"/>
<rect x="1238" y="1220.2" width="100.6" height="100.8" fill="#f3f8fe"/>
<rect x="1338.4" y="1220.2" width="100.6" height="100.8" fill="#08306b"/>
<rect x="1438.8" y="1220.2" width="100.6" height="100.8" fill="#f4f9fe"/>
<rect x="1539.2" y="1220.2" width="100.6" height="100.8" fill="#f7fbff"/>
<rect x="1238" y="1320.8" width="100.6" height="100.8" fill="#f2f7fd"/>
<rect x="1338.4" y="1320.8" width="100.6" height="100.8" fill="#f1f7fd"/>
<rect x="1438.8" y="1320.8" width="100.6" height="100.8" fill="#a4cce3"/>
<rect x="1539.2" y="1320.8" width="100.6" height="100.8" fill="#f5f9fe"/>
<rect x="1238" y="1421.4" width="100.6" height="100.8" fill="#f5f9fe"/>
<rect x="1338.4" y="1421.4" width="100.6" height="100.8" fill="#f6faff"/>
<rect x="1438.8" y="1421.4" width="100.6" height="100.8" fill="#eef5fc"/>
<rect x="1539.2" y="1421.4" width="100.6" height="100.8" fill="#dfebf7"/>
<rect x="1238" y="1119.6" width="401.6" height="402.4" fill="none" stroke="#000" stroke-width="0.88"/>
<path d="M1288.2 1522v4.4M1238 1169.9h-4.4M1388.6 1522v4.4M1238 1270.5h-4.4M1489 1522v4.4M1238 1371.1h-4.4M1589.4 1522v4.4M1238 1471.7h-4.4" stroke="#000" stroke-width="0.88" fill="none"/>
</g><g>
<text class="c d" transform="translate(1288.2 1176.34) rotate(0.5)">14.91</text>
<text class="c d" transform="translate(1388.6 1176.34) rotate(0.5)">3.93</text>
<text class="c d" transform="translate(1489 1176.34) rotate(0.5)">1.86</text>
<text class="c d" transform="translate(1589.4 1176.34) rotate(0.5)">0.00</text>
<text class="c d" transform="translate(1288.2 1276.94) rotate(0.5)">1.04</text>
<text class="c l" transform="translate(1388.6 1276.94) rotate(0.5)">47.83</text>
<text class="c d" transform="translate(1489 1276.94) rotate(0.5)">0.83</text>
<text class="c d" transform="translate(1589.4 1276.94) rotate(0.5)">0.00</text>
<text class="c d" transform="translate(1288.2 1377.54) rotate(0.5)">1.45</text>
<text class="c d" transform="translate(1388.6 1377.54) rotate(0.5)">1.66</text>
<text class="c d" transform="translate(1489 1377.54) rotate(0.5)">17.18</text>
<text class="c d" transform="translate(1589.4 1377.54) rotate(0.5)">0.62</text>
<text class="c d" transform="translate(1288.2 1478.14) rotate(0.5)">0.62</text>
<text class="c d" transform="translate(1388.6 1478.14) rotate(0.5)">0.21</text>
<text class="c d" transform="translate(1489 1478.14) rotate(0.5)">2.07</text>
<text class="c d" transform="translate(1589.4 1478.14) rotate(0.5)">5.80</text>
<text class="k y" transform="translate(1229.6 1175.43) rotate(0.5)">Home</text>
<text class="k y" transform="translate(1229.6 1276.03) rotate(0.5)">On the move</text>
<text class="k y" transform="translate(1229.6 1376.63) rotate(0.5)">Other location</text>
<text class="k y" transform="translate(1229.6 1477.23) rotate(0.5)">University</text>
<text class="k x" transform="translate(1288.2 1551.74) rotate(-45)" y="4.33">Home</text>
<text class="k x" transform="translate(1388.6 1571.35) rotate(-45)" y="4.33">On the move</text>
<text class="k x" transform="translate(1489 1574.87) rotate(-45)" y="4.33">Other location</text>
<text class="k x" transform="translate(1589.4 1563.33) rotate(-45)" y="4.33">University</text>
<text class="k t" transform="translate(1438.8 1115.2) rotate(0.5)">Location_Bother_&gt;25%</text>
</g>
<g>
<rect x="1788" y="1119.6" width="100.6" height="100.8" fill="#e8f1fa"/>
<rect x="1888.4" y="1119.6" width="100.6" height="100.8" fill="#eaf2fb"/>
<rect x="1988.8" y="1119.6" width="100.6" height="100.8" fill="#f6faff"/>
<rect x="2089.2" y="1119.6" width="100.6" height="100.8" fill="#60a7d2"/>
<rect x="1788" y="1220.2" width="100.6" height="100.8" fill="#a3cce3"/>
<rect x="1888.4" y="1220.2" width="100.6" height="100.8" fill="#bed8ec"/>
<rect x="1988.8" y="1220.2" width="100.6" height="100.8" fill="#f6faff"/>
<rect x="2089.2" y="1220.2" width="100.6" height="100.8" fill="#08306b"/>
<rect x="1788" y="1320.8" width="100.6" height="100.8" fill="#f6faff"/>
<rect x="1888.4" y="1320.8" width="100.6" height="100.8" fill="#bad6eb"/>
<rect x="1988.8" y="1320.8" width="100.6" height="100.8" fill="#f7fbff"/>
<rect x="2089.2" y="1320.8" width="100.6" height="100.8" fill="#95c5df"/>
<rect x="1788" y="1421.4" width="100.6" height="100.8" fill="#f7fbff"/>
<rect x="1888.4" y="1421.4" width="100.6" height="100.8" fill="#f6faff"/>
<rect x="1988.8" y="1421.4" width="100.6" height="100.8" fill="#f7fbff"/>
<rect x="2089.2" y="1421.4" width="100.6" height="100.8" fill="#bdd7ec"/>
<rect x="1788" y="1119.6" width="401.6" height="402.4" fill="none" stroke="#000" stroke-width="0.88"/>
<path d="M1838.2 1522v4.4M1788 1169.9h-4.4M1938.6 1522v4.4M1788 1270.5h-4.4M2039 1522v4.4M1788 1371.1h-4.4M2139.4 1522v4.4M1788 1471.7h-4.4" stroke="#000" stroke-width="0.88" fill="none"/>
</g><g>
<text class="c d" transform="translate(1838.2 1176.34) rotate(0.5)">2.28</text>
<text class="c d" transform="translate(1938.6 1176.34) rotate(0.5)">2.07</text>
<text class="c d" transform="translate(2039 1176.34) rotate(0.5)">0.21</text>
<text class="c l" transform="translate(2139.4 1176.34) rotate(0.5)">16.15</text>
<text class="c d" transform="translate(1838.2 1276.94) rotate(0.5)">10.97</text>
<text class="c d" transform="translate(1938.6 1276.94) rotate(0.5)">8.28</text>
<text class="c d" transform="translate(2039 1276.94) rotate(0.5)">0.21</text>
<text class="c l" transform="translate(2139.4 1276.94) rotate(0.5)">30.23</text>
<text class="c d" transform="translate(1838.2 1377.54) rotate(0.5)">0.21</text>
<text class="c d" transform="translate(1938.6 1377.54) rotate(0.5)">8.70</text>
<text class="c d" transform="translate(2039 1377.54) rotate(0.5)">0.00</text>
<text class="c d" transform="translate(2139.4 1377.54) rotate(0.5)">12.01</text>
<text class="c d" transform="translate(1838.2 1478.14) rotate(0.5)">0.00</text>
<text class="c d" transform="translate(1938.6 1478.14) rotate(0.5)">0.21</text>
<text class="c d" transform="translate(2039 1478.14) rotate(0.5)">0.00</text>
<text class="c d" transform="translate(2139.4 1478.14) rotate(0.5)">8.49</text>
<text class="k y" transform="translate(1779.6 1175.43) rotate(0.5)">Home</text>
<text class="k y" transform="translate(1779.6 1276.03) rotate(0.5)">On the move</text>
<text class="k y" transform="translate(1779.6 1376.63) rotate(0.5)">Other location</text>
<text class="k y" transform="translate(1779.6 1477.23) rotate(0.5)">University</text>
<text class="k x" transform="translate(1838.2 1551.74) rotate(-45)" y="4.33">Home</text>
<text class="k x" transform="translate(1938.6 1571.35) rotate(-45)" y="4.33">On the move</text>
<text class="k x" transform="translate(2039 1574.87) rotate(-45)" y="4.33">Other location</text>
<text class="k x" transform="translate(2139.4 1563.33) rotate(-45)" y="4.33">University</text>
<text class="k t" transform="translate(1988.8 1115.2) rotate(0.5)">Location_Ignore_&gt;25%</text>
</g>
</svg></div></div></body></html>
